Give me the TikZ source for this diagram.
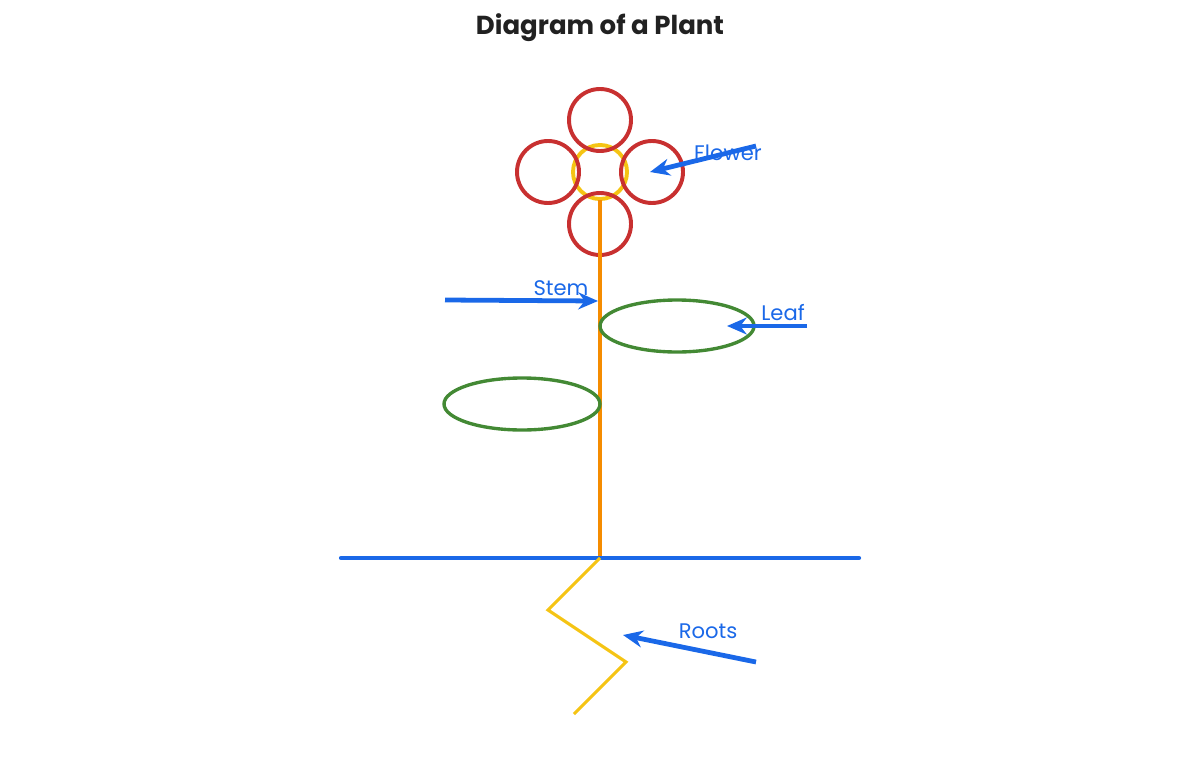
\documentclass[tikz,border=0pt]{standalone}
\usepackage{fontspec}
\setmainfont{Poppins}
\usetikzlibrary{arrows.meta}
\tikzstyle{petal}=[draw={rgb,255:red,200;green,48;blue,48}, line width=2.8pt]
\tikzstyle{leaf}=[draw={rgb,255:red,67;green,137;blue,52}, line width=2.4pt]
\tikzstyle{lbl}=[text={rgb,255:red,26;green,104;blue,232}, font=\fontsize{15}{18}\selectfont, inner sep=0pt]
\tikzstyle{pointer}=[draw={rgb,255:red,26;green,104;blue,232}, line width=3.4pt, -{Stealth[length=14pt,width=12pt]}]
\begin{document}
\begin{tikzpicture}[x=0.025cm, y=-0.025cm]
		\useasboundingbox (0, 0) rectangle (1200, 763);
		\node(title)[anchor=center, font=\bfseries\fontsize{18.5}{22}\selectfont, text={rgb,255:red,33;green,33;blue,33}] at (600, 28) {Diagram of a Plant};
		% flower
		\draw[draw={rgb,255:red,245;green,196;blue,20}, line width=2.8pt] (600, 172) circle (27);
		\draw[petal] (600, 120) circle (31);
		\draw[petal] (548, 172) circle (31);
		\draw[petal] (652, 172) circle (31);
		\draw[petal] (600, 224) circle (31);
		% stem and leaves
		\draw[draw={rgb,255:red,245;green,140;blue,0}, line width=3pt] (600, 200) -- (600, 558);
		\draw[leaf] (677, 326) ellipse [x radius=77, y radius=26];
		\draw[leaf] (522, 404) ellipse [x radius=78, y radius=26];
		% ground and roots
		\draw[draw={rgb,255:red,26;green,104;blue,232}, line width=3pt, line cap=round] (341, 558) -- (859, 558);
		\draw[draw={rgb,255:red,245;green,196;blue,20}, line width=2.2pt] (600, 558) -- (548, 610) -- (626, 662) -- (574, 714);
		% labels
		\node(flower)[lbl] at (728, 153) {Flower};
		\node(stem)[lbl] at (561, 288) {Stem};
		\node(leafl)[lbl] at (783, 313) {Leaf};
		\node(roots)[lbl] at (708, 631) {Roots};
		\coordinate(flowertail) at (756, 146);
		\coordinate(flowertip) at (650, 172);
		\coordinate(stemtail) at (445, 300);
		\coordinate(stemtip) at (598, 301);
		\coordinate(leaftail) at (807, 326);
		\coordinate(leaftip) at (727, 326);
		\coordinate(rootstail) at (756, 662);
		\coordinate(rootstip) at (623, 635);
		\draw[pointer] (flowertail) -- (flowertip);
		\draw[pointer] (stemtail) -- (stemtip);
		\draw[pointer] (leaftail) -- (leaftip);
		\draw[pointer] (rootstail) -- (rootstip);
		\end{tikzpicture}
\end{document}
